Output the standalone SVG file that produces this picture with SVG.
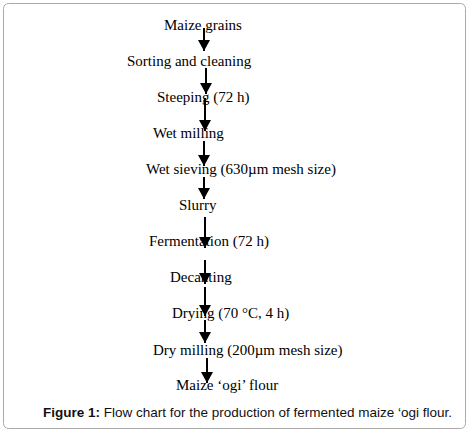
<svg xmlns="http://www.w3.org/2000/svg" width="473" height="435" viewBox="0 0 473 435">
<style>
.step{font-family:"Liberation Serif","Times New Roman",serif;font-size:15px;fill:#000}
.cap{font-family:"Liberation Sans",Arial,sans-serif;font-size:13.5px;fill:#111}
.conn line{stroke:#000;stroke-width:2}
</style>
<defs>
<marker id="ah" viewBox="0 0 10 10" markerUnits="userSpaceOnUse" markerWidth="11" markerHeight="12" refX="10" refY="5" orient="auto" preserveAspectRatio="none">
<path d="M0,0 L10,5 L0,10 z" fill="#000"/>
</marker>
</defs>
<rect x="0" y="0" width="473" height="435" fill="#fff"/>
<rect id="frame" x="3.5" y="3.5" width="462" height="425" rx="5" ry="5" fill="none" stroke="#aaaaaa" stroke-width="1"/>
<g id="connectors" class="conn">
<line x1="204" y1="28" x2="204" y2="51" marker-end="url(#ah)"/>
<line x1="206" y1="68" x2="206" y2="94" marker-end="url(#ah)"/>
<line x1="205" y1="98" x2="205" y2="131" marker-end="url(#ah)"/>
<line x1="204" y1="141" x2="204" y2="166" marker-end="url(#ah)"/>
<line x1="204" y1="177" x2="204" y2="199" marker-end="url(#ah)"/>
<line x1="205" y1="217" x2="205" y2="248" marker-end="url(#ah)"/>
<line x1="205" y1="260" x2="205" y2="284" marker-end="url(#ah)"/>
<line x1="205" y1="287" x2="205" y2="316" marker-end="url(#ah)"/>
<line x1="205" y1="320" x2="205" y2="343" marker-end="url(#ah)"/>
<line x1="207" y1="358" x2="207" y2="383" marker-end="url(#ah)"/>
</g>
<g id="n1"><text class="step" x="164" y="30">Maize grains</text></g>
<g id="n2"><text class="step" x="127" y="66">Sorting and cleaning</text></g>
<g id="n3"><text class="step" x="157" y="102">Steeping (72 h)</text></g>
<g id="n4"><text class="step" x="153" y="138">Wet milling</text></g>
<g id="n5"><text class="step" x="146" y="174">Wet sieving (630µm mesh size)</text></g>
<g id="n6"><text class="step" x="179" y="210">Slurry</text></g>
<g id="n7"><text class="step" x="149" y="246">Fermentation (72 h)</text></g>
<g id="n8"><text class="step" x="170" y="282">Decanting</text></g>
<g id="n9"><text class="step" x="172" y="318">Drying (70 °C, 4 h)</text></g>
<g id="n10"><text class="step" x="153" y="355">Dry milling (200µm mesh size)</text></g>
<g id="n11"><text class="step" x="176" y="390">Maize ‘ogi’ flour</text></g>
<g id="caption"><text class="cap" x="43" y="417"><tspan font-weight="bold">Figure 1:</tspan> Flow chart for the production of fermented maize ‘ogi flour.</text></g>
</svg>
